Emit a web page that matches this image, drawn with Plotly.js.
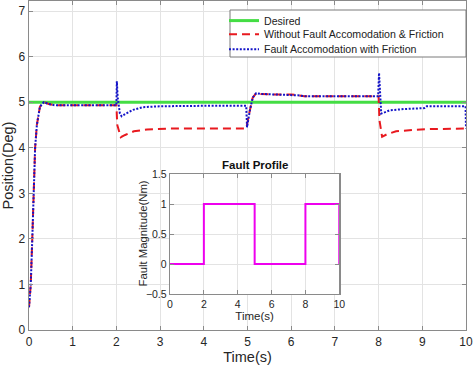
<!DOCTYPE html>
<html><head><meta charset="utf-8">
<script src="https://cdn.plot.ly/plotly-3.0.1.min.js"></script>
<style>html,body{margin:0;padding:0;background:#fff}#g{width:474px;height:368px}</style>
</head><body><div id="g"></div>
<script>
// Desired
const tDesired = [0, 10];
const yDesired = [5, 5];
// Without Fault Accomodation & Friction
const tNoAcc = [0, 0.04, 0.075, 0.1, 0.14, 0.18, 0.25, 0.34, 0.45, 0.6, 0.8, 1.2, 2.0, 2.02, 2.1, 2.2, 2.4, 2.7, 3.2, 4.0, 4.97, 5.05, 5.12, 5.2, 5.3, 5.6, 6.0, 6.15, 6.3, 7.0, 8.0, 8.02, 8.08, 8.2, 8.4, 8.8, 9.2, 10.0];
const yNoAcc = [0.5, 1.0, 2.0, 3.0, 4.0, 4.5, 4.9, 5.0, 4.96, 4.93, 4.93, 4.93, 4.93, 4.5, 4.23, 4.28, 4.36, 4.4, 4.42, 4.42, 4.42, 4.8, 5.1, 5.2, 5.18, 5.17, 5.17, 5.15, 5.13, 5.13, 5.13, 4.6, 4.24, 4.3, 4.36, 4.39, 4.41, 4.42];
// Fault Accomodation with Friction
const tAcc = [0, 0.04, 0.075, 0.1, 0.14, 0.18, 0.25, 0.34, 0.45, 0.6, 0.8, 1.2, 2.0, 2.01, 2.03, 2.08, 2.12, 2.2, 2.38, 2.6, 3.0, 4.0, 4.97, 4.99, 5.05, 5.12, 5.2, 5.3, 5.6, 6.0, 6.15, 6.3, 7.0, 7.99, 8.01, 8.03, 8.06, 8.15, 8.25, 8.6, 9.05, 9.1, 9.5, 9.99, 10.0];
const yAcc = [0.5, 1.0, 2.0, 3.0, 4.0, 4.5, 4.9, 5.0, 4.96, 4.93, 4.93, 4.93, 4.93, 5.46, 5.1, 4.75, 4.69, 4.74, 4.83, 4.89, 4.91, 4.92, 4.92, 4.45, 4.8, 5.1, 5.2, 5.18, 5.17, 5.17, 5.15, 5.13, 5.13, 5.13, 5.64, 5.1, 4.75, 4.78, 4.82, 4.85, 4.87, 4.91, 4.91, 4.91, 4.42];
// Fault profile (inset)
const tFault = [0, 2, 2, 5, 5, 8, 8, 10, 10];
const yFault = [0, 0, 1, 1, 0, 0, 1, 1, 0];

const mainXTicks = [0,1,2,3,4,5,6,7,8,9,10];
const mainYTicks = [0,1,2,3,4,5,6,7];
const insetXTicks = [0,2,4,6,8,10];
const insetYTicks = [-0.5,0,0.5,1,1.5];

const traces = [
  {x: tDesired, y: yDesired, mode:'lines', name:'Desired', legend:'legend', line:{color:'#44dd44', width:3}},
  {x: tNoAcc, y: yNoAcc, mode:'lines', name:'Without Fault Accomodation &amp; Friction', legend:'legend2', line:{color:'#e8191f', width:2, dash:'8px,5px'}},
  {x: tAcc, y: yAcc, mode:'lines', name:'Fault Accomodation with Friction', legend:'legend3', line:{color:'#1414c8', width:2, dash:'2px,1.6px'}},
  {x: tFault, y: yFault, mode:'lines', xaxis:'x2', yaxis:'y2', showlegend:false, line:{color:'#ee00ee', width:2}}
];

const gridC = '#e3e3e3', lineC = '#8a8a8a', tickFont = {family:'Liberation Sans, Arial, sans-serif', size:12, color:'#262626'};
function ax(o){ return Object.assign({showline:true, mirror:'ticks', linecolor:lineC, linewidth:1.3, ticks:'inside', ticklen:4, tickcolor:lineC, showgrid:true, gridcolor:gridC, gridwidth:1, zeroline:false, automargin:false}, o); }
const PH = 329, PB = 330, PW = 437, PL = 29;
function py(px){ return (PB - px) / PH; }
function pxx(px){ return (px - PL) / PW; }
function leg(yc){ return {x:pxx(224), xanchor:'left', y:py(yc), yanchor:'middle', bgcolor:'rgba(0,0,0,0)', borderwidth:0, font:{size:10.6, color:'#222'}, itemwidth:30}; }

const layout = {
  width:474, height:368,
  margin:{l:29, r:8, t:1, b:38},
  paper_bgcolor:'#fff', plot_bgcolor:'#fff',
  font:{family:'Liberation Sans, Arial, sans-serif', color:'#262626'},
  showlegend:true,
  legend: leg(20.6),
  legend2: leg(34.3),
  legend3: leg(49.2),
  shapes:[{type:'rect', xref:'paper', yref:'paper', x0:pxx(230), x1:pxx(466), y0:py(57), y1:py(10), fillcolor:'#fff', line:{color:'#7a7a7a', width:1}, layer:'above'}],
  xaxis: ax({range:[0,10], tickvals:mainXTicks, tickfont:tickFont, title:{text:'Time(s)', font:{size:14.5, color:'#262626'}, standoff:3}}),
  yaxis: ax({range:[0,7.22], tickvals:mainYTicks, tickfont:tickFont, title:{text:'Position(Deg)', font:{size:14.5, color:'#262626'}, standoff:1}}),
  xaxis2: ax({domain:[0.3227,0.710], anchor:'y2', range:[0,10], tickvals:insetXTicks, tickfont:{size:10.5, color:'#262626'}, title:{text:'Time(s)', font:{size:11.5, color:'#262626'}, standoff:2}}),
  yaxis2: ax({domain:[0.109,0.474], anchor:'x2', range:[-0.5,1.5], tickvals:insetYTicks, tickfont:{size:10.5, color:'#262626'}}),
  annotations:[
    {text:'<b>Fault Profile</b>', xref:'paper', yref:'paper', x:0.5163, y:0.474, yanchor:'bottom', yshift:1, showarrow:false, font:{size:11.5, color:'#111'}},
    {text:'Fault Magnitude(Nm)', xref:'paper', yref:'paper', x:pxx(142.5), y:py(234), xanchor:'center', yanchor:'middle', textangle:-90, showarrow:false, font:{size:11.3, color:'#262626'}}
  ]
};
Plotly.newPlot('g', traces, layout, {staticPlot:true, displayModeBar:false});
</script></body></html>
